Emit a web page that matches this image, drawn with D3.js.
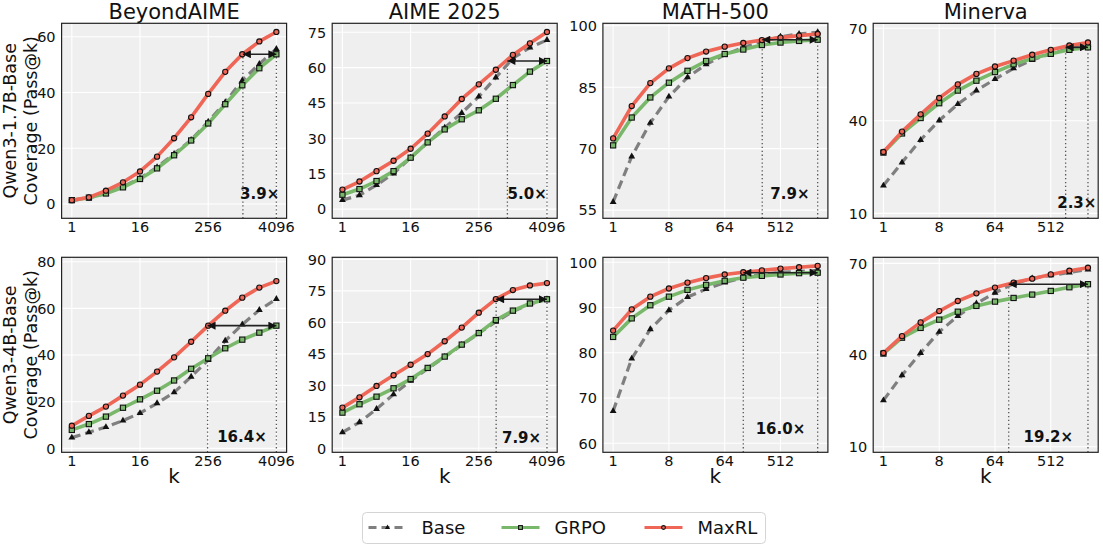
<!DOCTYPE html>
<html>
<head>
<meta charset="utf-8">
<script src="https://cdn.jsdelivr.net/npm/d3@7"></script>
<style>
  body { margin: 0; background: #fff; }
  text { font-family: "DejaVu Sans", sans-serif; fill: #111; }
</style>
</head>
<body>
<svg id="chart"></svg>
<script>
// sample budgets
const ks4096 = [1, 2, 4, 8, 16, 32, 64, 128, 256, 512, 1024, 2048, 4096];
const ks2048 = [1, 2, 4, 8, 16, 32, 64, 128, 256, 512, 1024, 2048];

const datasets = ["BeyondAIME", "AIME 2025", "MATH-500", "Minerva"];
const models = ["Qwen3-1.7B-Base", "Qwen3-4B-Base"];
const methods = ["Base", "GRPO", "MaxRL"];

// Qwen3-1.7B-Base
const beyond17Base  = [1.2, 2.2, 3.8, 6.3, 9.3, 13.2, 18.0, 23.0, 29.5, 36.5, 44.3, 50.2, 55.6];
const beyond17Grpo  = [1.4, 2.3, 3.8, 6.0, 9.0, 12.8, 17.5, 22.8, 28.9, 35.8, 42.6, 48.7, 53.7];
const beyond17MaxRL = [1.4, 2.4, 4.8, 7.8, 11.7, 17.0, 23.6, 31.1, 39.5, 47.4, 53.7, 58.3, 61.7];

const aime17Base  = [3.8, 5.9, 10.2, 15.1, 21.8, 28.2, 34.5, 40.8, 47.7, 55.8, 64.0, 68.5, 71.7];
const aime17Grpo  = [6.1, 8.5, 11.9, 16.1, 21.8, 28.3, 33.8, 38.1, 41.9, 46.8, 52.6, 58.3, 62.8];
const aime17MaxRL = [8.3, 11.7, 16.1, 20.5, 25.6, 32.0, 39.3, 46.7, 52.9, 59.1, 65.4, 70.3, 75.1];

const math17Base  = [57.0, 68.1, 76.3, 82.7, 87.4, 90.6, 92.9, 94.7, 96.2, 97.3, 98.0, 98.4];
const math17Grpo  = [70.8, 77.6, 82.5, 86.1, 89.0, 91.4, 93.1, 94.2, 95.3, 95.9, 96.3, 96.6];
const math17MaxRL = [72.5, 80.4, 86.0, 89.6, 92.1, 93.7, 94.9, 95.8, 96.5, 97.1, 97.6, 98.0];

const minerva17Base  = [19.0, 26.5, 33.8, 40.1, 45.4, 49.8, 53.5, 57.0, 59.7, 61.7, 63.5, 64.6];
const minerva17Grpo  = [29.7, 35.9, 40.9, 45.7, 49.8, 53.0, 55.8, 58.3, 60.2, 61.7, 63.0, 63.8];
const minerva17MaxRL = [29.9, 36.5, 42.1, 47.4, 51.8, 55.2, 57.6, 59.5, 61.4, 63.0, 64.4, 65.4];

// Qwen3-4B-Base
const beyond4Base  = [4.6, 6.9, 9.1, 11.9, 15.1, 19.3, 24.0, 30.7, 37.9, 46.1, 53.1, 59.3, 64.0];
const beyond4Grpo  = [7.9, 10.4, 13.6, 17.4, 21.0, 24.7, 29.1, 34.1, 38.6, 42.9, 46.6, 49.6, 52.6];
const beyond4MaxRL = [9.7, 13.9, 17.9, 22.6, 27.3, 32.9, 39.0, 45.7, 52.6, 59.0, 64.6, 68.9, 71.7];

const aime4Base  = [7.6, 12.4, 18.7, 25.7, 32.2, 37.9, 43.5, 49.2, 54.8, 60.3, 65.2, 68.7, 71.0];
const aime4Grpo  = [17.0, 21.0, 24.6, 28.6, 33.0, 38.3, 43.7, 49.4, 54.9, 61.1, 65.6, 69.0, 71.0];
const aime4MaxRL = [19.4, 24.3, 29.7, 34.8, 39.8, 44.9, 51.0, 57.5, 64.6, 71.1, 75.4, 77.6, 78.7];

const math4Base  = [67.1, 78.7, 85.2, 89.4, 92.3, 94.1, 95.5, 96.6, 97.3, 97.8, 98.0, 98.2];
const math4Grpo  = [83.5, 87.6, 90.5, 92.4, 93.9, 95.0, 95.9, 96.6, 97.0, 97.3, 97.6, 97.7];
const math4MaxRL = [84.9, 89.6, 92.4, 94.2, 95.5, 96.5, 97.3, 97.8, 98.2, 98.6, 98.9, 99.2];

const minerva4Base  = [25.2, 33.4, 40.7, 47.6, 52.8, 56.9, 60.4, 63.4, 65.1, 66.1, 67.0, 68.0];
const minerva4Grpo  = [40.5, 45.7, 48.9, 51.6, 54.2, 56.1, 57.5, 58.7, 59.8, 61.0, 62.2, 63.2];
const minerva4MaxRL = [40.7, 46.2, 50.7, 54.4, 57.7, 60.2, 62.1, 63.7, 65.0, 66.4, 67.6, 68.6];

// sample-efficiency gain of MaxRL over GRPO
const gains17 = [3.9, 5.0, 7.9, 2.3];
const gains4  = [16.4, 7.9, 16.0, 19.2];

// axis ticks
const xTicksAime = [1, 16, 256, 4096];
const xTicksMath = [1, 8, 64, 512];
const yTicks17 = [[0, 20, 40, 60], [0, 15, 30, 45, 60, 75], [55, 70, 85, 100], [10, 40, 70]];
const yTicks4  = [[0, 20, 40, 60, 80], [0, 15, 30, 45, 60, 75, 90], [60, 70, 80, 90, 100], [10, 40, 70]];
const yLims17 = [[-5.1, 64.8], [-3.9, 78.8], [53, 100.6], [8.4, 71.6]];
const yLims4  = [[-1.7, 81.9], [-1.9, 91], [58, 101.1], [8.2, 72]];

// ---- layout ----
const width = 1103, height = 549;
const plotLeft = [61.6, 332.2, 602.9, 873.2];
const rowTop = [23.3, 257.3];
const plotW = 225, plotH = 195;
const gainLabelDy = [[25, 25, 25, 16], [16, 15, 24, 16]];

const colors = { Base: "#7f7f7f", GRPO: "#79b86b", MaxRL: "#ef6656" };

const svg = d3.select("#chart").attr("width", width).attr("height", height);

const defs = svg.append("defs");
["start", "end"].forEach(side => {
  defs.append("marker")
      .attr("id", "head-" + side)
      .attr("markerUnits", "userSpaceOnUse")
      .attr("viewBox", "0 0 10 10")
      .attr("refX", side === "end" ? 10 : 0)
      .attr("refY", 5)
      .attr("markerWidth", 9)
      .attr("markerHeight", 8)
      .attr("orient", "auto")
    .append("path")
      .attr("d", side === "end" ? "M0,0 L10,5 L0,10 Z" : "M10,0 L0,5 L10,10 Z")
      .attr("fill", "#111");
});

const panelRows = [
  { model: models[0], gains: gains17, yTicks: yTicks17, yLims: yLims17,
    series: [[beyond17Base, beyond17Grpo, beyond17MaxRL], [aime17Base, aime17Grpo, aime17MaxRL],
             [math17Base, math17Grpo, math17MaxRL], [minerva17Base, minerva17Grpo, minerva17MaxRL]] },
  { model: models[1], gains: gains4, yTicks: yTicks4, yLims: yLims4,
    series: [[beyond4Base, beyond4Grpo, beyond4MaxRL], [aime4Base, aime4Grpo, aime4MaxRL],
             [math4Base, math4Grpo, math4MaxRL], [minerva4Base, minerva4Grpo, minerva4MaxRL]] }
];

// marker shapes
function drawMarker(sel, method, size) {
  if (method === "MaxRL") {
    sel.append("circle").attr("r", size * 0.5)
       .attr("fill", colors.MaxRL).attr("stroke", "#111").attr("stroke-width", 1.1);
  } else if (method === "GRPO") {
    sel.append("rect").attr("x", -size / 2).attr("y", -size / 2)
       .attr("width", size).attr("height", size)
       .attr("fill", colors.GRPO).attr("stroke", "#111").attr("stroke-width", 1.1);
  } else {
    sel.append("path").attr("d", d3.symbol(d3.symbolTriangle, size * size * 0.75)())
       .attr("fill", "#111");
  }
}

panelRows.forEach((row, r) => {
  datasets.forEach((name, c) => {
    const ks = c < 2 ? ks4096 : ks2048;
    const xTicks = c < 2 ? xTicksAime : xTicksMath;
    const n = Math.log2(ks[ks.length - 1]);
    const x = d3.scaleLog().base(2)
                .domain([Math.pow(2, -0.05 * n), Math.pow(2, n * 1.05)])
                .range([0, plotW]);
    const y = d3.scaleLinear().domain(row.yLims[c]).range([plotH, 0]);

    const g = svg.append("g").attr("transform", `translate(${plotLeft[c]},${rowTop[r]})`);

    g.append("rect").attr("width", plotW).attr("height", plotH).attr("fill", "#efefef");

    // grid
    g.selectAll(".gy").data(row.yTicks[c]).enter().append("line")
     .attr("x1", 0).attr("x2", plotW)
     .attr("y1", d => y(d)).attr("y2", d => y(d))
     .attr("stroke", "#fff").attr("stroke-width", 1.1);
    g.selectAll(".gx").data(xTicks).enter().append("line")
     .attr("y1", 0).attr("y2", plotH)
     .attr("x1", d => x(d)).attr("x2", d => x(d))
     .attr("stroke", "#fff").attr("stroke-width", 1.1);

    // annotation: dotted guides + arrow
    const grpo = row.series[c][1];
    const target = grpo[grpo.length - 1];
    const kRight = ks[ks.length - 1];
    const kLeft = kRight / row.gains[c];
    [kLeft, kRight].forEach(k => {
      g.append("line")
       .attr("x1", x(k)).attr("x2", x(k))
       .attr("y1", plotH).attr("y2", y(target))
       .attr("stroke", "#555").attr("stroke-width", 1.3)
       .attr("stroke-dasharray", "1.3,2.6");
    });

    // series
    row.series[c].forEach((vals, m) => {
      const method = methods[m];
      const pts = ks.map((k, i) => [k, vals[i]]);
      const line = d3.line().x(d => x(d[0])).y(d => y(d[1]));
      g.append("path").datum(pts)
       .attr("d", line)
       .attr("fill", "none")
       .attr("stroke", colors[method])
       .attr("stroke-width", method === "Base" ? 3.2 : 3.6)
       .attr("stroke-dasharray", method === "Base" ? "9,5" : null)
       .attr("stroke-linejoin", "round");
      pts.forEach(p => {
        const mg = g.append("g").attr("transform", `translate(${x(p[0])},${y(p[1])})`);
        drawMarker(mg, method, 5.2);
      });
    });

    g.append("line")
     .attr("x1", x(kLeft)).attr("x2", x(kRight))
     .attr("y1", y(target)).attr("y2", y(target))
     .attr("stroke", "#222").attr("stroke-width", 1.6)
     .attr("marker-start", "url(#head-start)")
     .attr("marker-end", "url(#head-end)");

    g.append("text")
     .attr("x", (x(kLeft) + x(kRight)) / 2)
     .attr("y", plotH - gainLabelDy[r][c] + 5.5)
     .attr("text-anchor", "middle")
     .style("font-size", "15px").style("font-weight", "bold")
     .text(row.gains[c].toFixed(1) + "×");

    // frame
    g.append("rect").attr("width", plotW).attr("height", plotH)
     .attr("fill", "none").attr("stroke", "#222").attr("stroke-width", 1.2);

    // tick labels
    g.selectAll(".ty").data(row.yTicks[c]).enter().append("text")
     .attr("x", -6).attr("y", d => y(d) + 5.3)
     .attr("text-anchor", "end")
     .style("font-size", "14.5px")
     .text(d => d);
    g.selectAll(".tx").data(xTicks).enter().append("text")
     .attr("x", d => x(d)).attr("y", plotH + 14)
     .attr("text-anchor", "middle")
     .style("font-size", "14.5px")
     .text(d => d);

    if (r === 0) {
      svg.append("text")
         .attr("x", plotLeft[c] + plotW / 2).attr("y", 18.5)
         .attr("text-anchor", "middle")
         .style("font-size", "21px")
         .text(name);
    }
    if (r === 1) {
      svg.append("text")
         .attr("x", plotLeft[c] + plotW / 2).attr("y", 483)
         .attr("text-anchor", "middle")
         .style("font-size", "20px")
         .text("k");
    }
  });

  // y-axis label (two lines)
  const cy = rowTop[r] + plotH / 2;
  [[row.model, 15.5], ["Coverage (Pass@k)", 37]].forEach(([txt, bx]) => {
    svg.append("text")
       .attr("transform", `translate(${bx},${cy}) rotate(-90)`)
       .attr("text-anchor", "middle")
       .style("font-size", "17.5px")
       .text(txt);
  });
});

// legend
const legend = svg.append("g").attr("transform", "translate(362.5,512.5)");
legend.append("rect").attr("width", 403).attr("height", 31).attr("rx", 4)
      .attr("fill", "#fff").attr("stroke", "#d4d4d4").attr("stroke-width", 1);
const legendX = [6, 139, 282];
methods.forEach((method, i) => {
  const lg = legend.append("g").attr("transform", `translate(${legendX[i]},15)`);
  lg.append("line").attr("x1", 0).attr("x2", 38)
    .attr("stroke", colors[method])
    .attr("stroke-width", method === "Base" ? 2.8 : 3)
    .attr("stroke-dasharray", method === "Base" ? "8,5" : null);
  drawMarker(lg.append("g").attr("transform", "translate(19,0)"), method, 3.8);
  lg.append("text").attr("x", 53).attr("y", 6.5)
    .style("font-size", "18px")
    .text(method);
});
</script>
</body>
</html>
